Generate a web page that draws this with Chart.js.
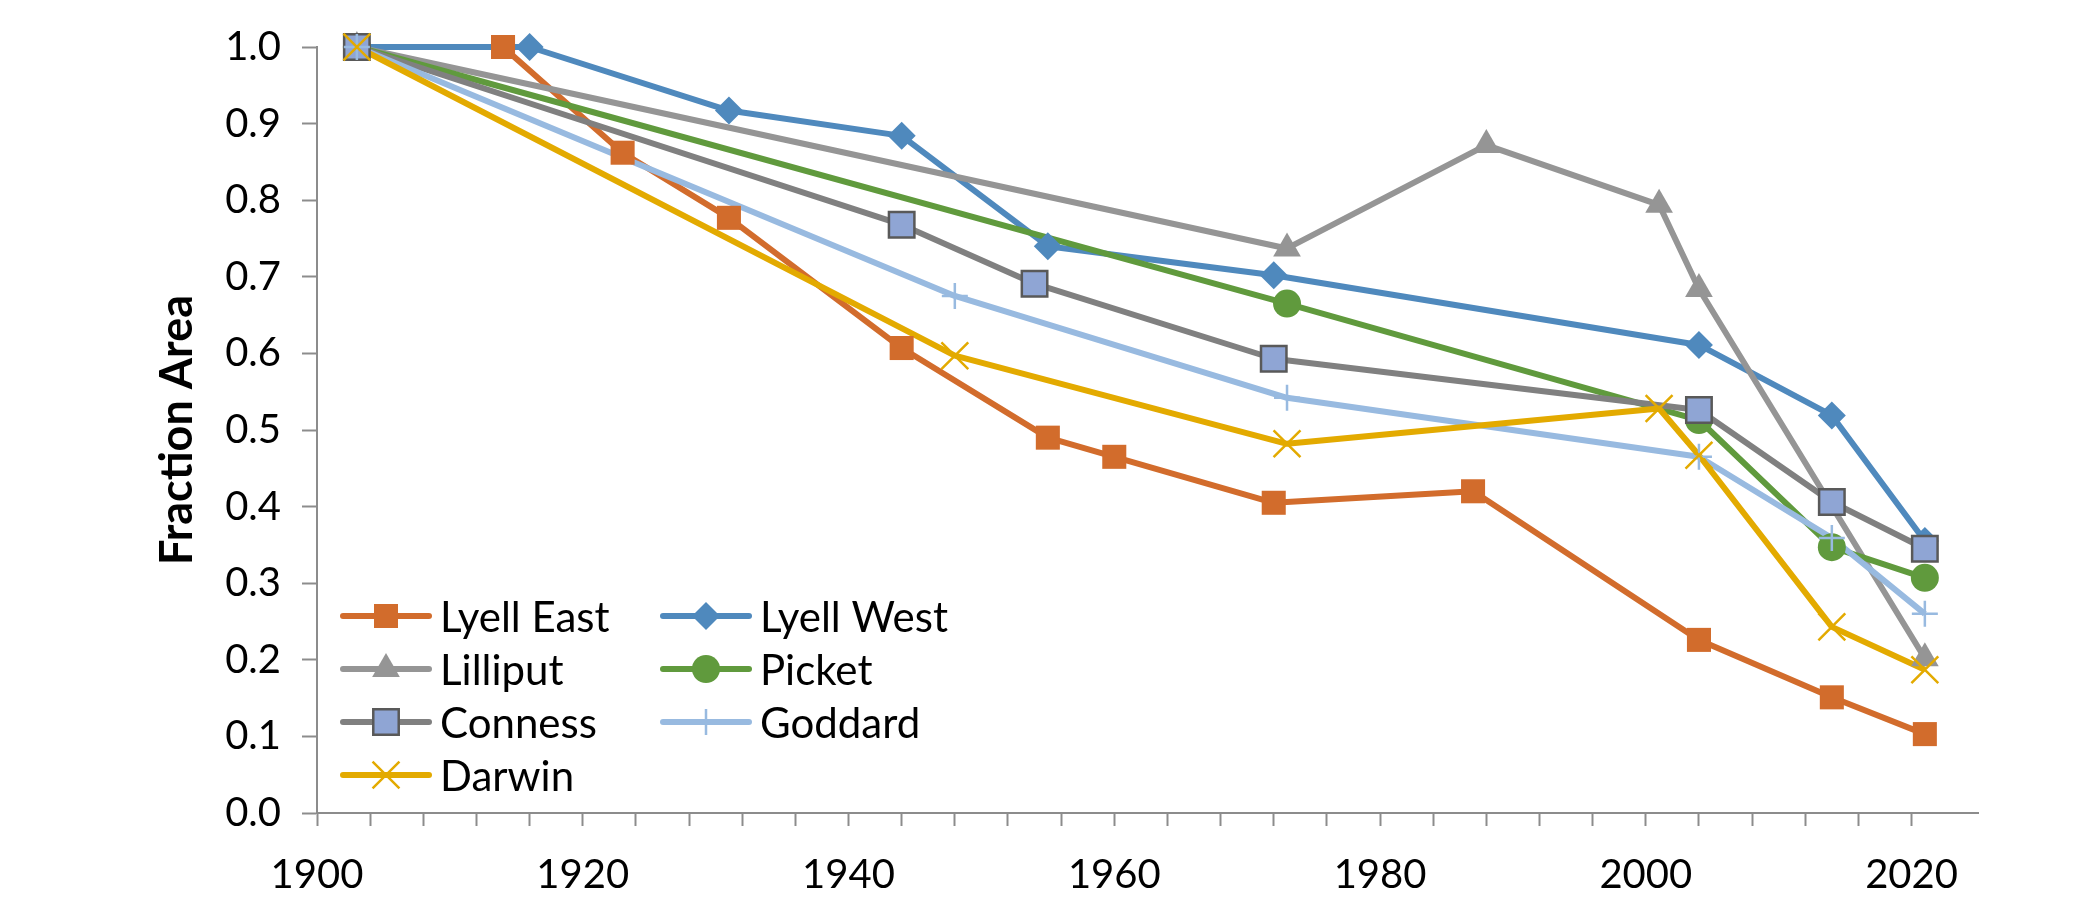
<!DOCTYPE html>
<html>
<head>
<meta charset="utf-8">
<title>Fraction Area</title>
<script src="https://cdn.jsdelivr.net/npm/chart.js@4.4.1/dist/chart.umd.min.js"></script>
<style>
    html, body { margin: 0; padding: 0; background: #fff; }
    #wrap { width: 2097px; height: 921px; }
</style>
</head>
<body>
<div id="wrap"><canvas id="areaChart"></canvas></div>
<script>
// Survey years and fraction of original area, per glacier
const lyellEastYears = [1914, 1923, 1931, 1944, 1955, 1960, 1972, 1987, 2004, 2014, 2021];
const lyellEastArea  = [1.0, 0.862, 0.777, 0.607, 0.490, 0.465, 0.405, 0.420, 0.226, 0.151, 0.103];

const lyellWestYears = [1903, 1916, 1931, 1944, 1955, 1972, 2004, 2014, 2021];
const lyellWestArea  = [1.0, 1.0, 0.917, 0.884, 0.740, 0.702, 0.611, 0.519, 0.355];

const lilliputYears = [1903, 1973, 1988, 2001, 2004, 2021];
const lilliputArea  = [1.0, 0.737, 0.872, 0.794, 0.684, 0.202];

const picketYears = [1903, 1973, 2004, 2014, 2021];
const picketArea  = [1.0, 0.665, 0.513, 0.347, 0.307];

const connessYears = [1903, 1944, 1954, 1972, 2004, 2014, 2021];
const connessArea  = [1.0, 0.768, 0.691, 0.593, 0.526, 0.406, 0.345];

const goddardYears = [1903, 1948, 1973, 2004, 2014, 2021];
const goddardArea  = [1.0, 0.675, 0.542, 0.465, 0.359, 0.260];

const darwinYears = [1903, 1948, 1973, 2001, 2004, 2014, 2021];
const darwinArea  = [1.0, 0.597, 0.482, 0.528, 0.467, 0.243, 0.187];

// Axis labels
const xTickLabels = [1900, 1920, 1940, 1960, 1980, 2000, 2020];
const yTickLabels = ['0.0', '0.1', '0.2', '0.3', '0.4', '0.5', '0.6', '0.7', '0.8', '0.9', '1.0'];

const FONT = 'Lato, "Open Sans", sans-serif';
const AXIS_GRAY = '#8C8C8C';

// Look of each series (Excel-like palette)
const series = [
    { label: 'Lyell East', years: lyellEastYears, vals: lyellEastArea, color: '#D26C2C', style: 'rect',     radius: 17, fill: '#D26C2C', border: '#D26C2C', bw: 0 },
    { label: 'Lyell West', years: lyellWestYears, vals: lyellWestArea, color: '#4F89BD', style: 'rectRot',  radius: 14, fill: '#4F89BD', border: '#4F89BD', bw: 0 },
    { label: 'Lilliput',   years: lilliputYears,  vals: lilliputArea,  color: '#959595', style: 'triangle', radius: 16, fill: '#959595', border: '#959595', bw: 0 },
    { label: 'Picket',     years: picketYears,    vals: picketArea,    color: '#609A3D', style: 'circle',   radius: 14, fill: '#609A3D', border: '#609A3D', bw: 0 },
    { label: 'Conness',    years: connessYears,   vals: connessArea,   color: '#808080', style: 'rect',     radius: 18, fill: '#8FA5D4', border: '#595959', bw: 2.5 },
    { label: 'Goddard',    years: goddardYears,   vals: goddardArea,   color: '#98BAE0', style: 'cross',    radius: 13, fill: '#98BAE0', border: '#98BAE0', bw: 2.5 },
    { label: 'Darwin',     years: darwinYears,    vals: darwinArea,    color: '#E3AA00', style: 'crossRot', radius: 19, fill: '#E3AA00', border: '#E3AA00', bw: 2.5 }
];

const LINE_W = 6;

const toPoints = (years, vals) => years.map((yr, i) => ({ x: yr, y: vals[i] }));

// Lines first, markers on top of every line (like Excel)
const datasets = [];
series.forEach((s, i) => {
    datasets.push({
        label: s.label,
        data: toPoints(s.years, s.vals),
        borderColor: s.color,
        borderWidth: LINE_W,
        pointRadius: 0,
        pointHoverRadius: 0,
        borderJoinStyle: 'round',
        tension: 0,
        clip: false,
        order: 20 - i
    });
    datasets.push({
        label: s.label + ' markers',
        data: toPoints(s.years, s.vals),
        showLine: false,
        pointStyle: s.style,
        pointRadius: s.radius,
        pointHoverRadius: s.radius,
        pointBackgroundColor: s.fill,
        pointBorderColor: s.border,
        pointBorderWidth: s.bw,
        clip: false,
        order: 10 - i
    });
});

// Legend inside the plot, two columns
const LEGEND_COLS = [340, 660];
const LEGEND_ROWS = [616, 669, 722, 775];

const insideLegend = {
    id: 'insideLegend',
    afterDraw(chart) {
        const ctx = chart.ctx;
        ctx.save();
        series.forEach((s, i) => {
            const x0 = LEGEND_COLS[i % 2];
            const y = LEGEND_ROWS[Math.floor(i / 2)];

            ctx.strokeStyle = s.color;
            ctx.lineWidth = LINE_W;
            ctx.lineCap = 'round';
            ctx.beginPath();
            ctx.moveTo(x0 + 3, y);
            ctx.lineTo(x0 + 89, y);
            ctx.stroke();

            ctx.lineCap = 'butt';
            ctx.fillStyle = s.fill;
            ctx.strokeStyle = s.border;
            ctx.lineWidth = s.bw;
            Chart.helpers.drawPoint(ctx, {
                pointStyle: s.style,
                radius: s.radius,
                rotation: 0,
                borderWidth: s.bw
            }, x0 + 46, y);

            ctx.fillStyle = '#000';
            ctx.font = '42px ' + FONT;
            ctx.textAlign = 'left';
            ctx.textBaseline = 'middle';
            ctx.fillText(s.label, x0 + 100, y + 2);
        });
        ctx.restore();
    }
};

const ctxArea = document.getElementById('areaChart').getContext('2d');
new Chart(ctxArea, {
    type: 'line',
    data: { datasets },
    options: {
        responsive: true,
        maintainAspectRatio: false,
        animation: false,
        layout: { padding: { left: 150, right: 119, top: 47, bottom: 0 } },
        plugins: { legend: { display: false }, tooltip: { enabled: false } },
        scales: {
            x: {
                type: 'linear',
                min: 1900,
                max: 2025,
                ticks: {
                    stepSize: 4,
                    autoSkip: false,
                    maxRotation: 0,
                    padding: 25,
                    color: '#000',
                    font: { family: FONT, size: 40 },
                    callback: (v) => xTickLabels.includes(v) ? String(v) : ''
                },
                afterBuildTicks: (scale) => {
                    scale.ticks = scale.ticks.filter(t => (t.value - 1900) % 4 === 0);
                },
                grid: { drawOnChartArea: false, drawTicks: true, tickLength: 13, tickColor: AXIS_GRAY, tickWidth: 2 },
                border: { color: AXIS_GRAY, width: 2 },
                afterFit: (scale) => { scale.height = 108; }
            },
            y: {
                min: 0,
                max: 1,
                ticks: {
                    stepSize: 0.1,
                    padding: 21,
                    color: '#000',
                    font: { family: FONT, size: 40 },
                    callback: (v) => yTickLabels[Math.round(v * 10)]
                },
                grid: { drawOnChartArea: false, drawTicks: true, tickLength: 15, tickColor: AXIS_GRAY, tickWidth: 2 },
                border: { color: AXIS_GRAY, width: 2 },
                title: {
                    display: true,
                    text: 'Fraction Area',
                    color: '#000',
                    padding: 0,
                    font: { family: FONT, size: 45, weight: 'bold' }
                },
                afterFit: (scale) => { scale.width = 167; }
            }
        }
    },
    plugins: [insideLegend]
});
</script>
</body>
</html>
